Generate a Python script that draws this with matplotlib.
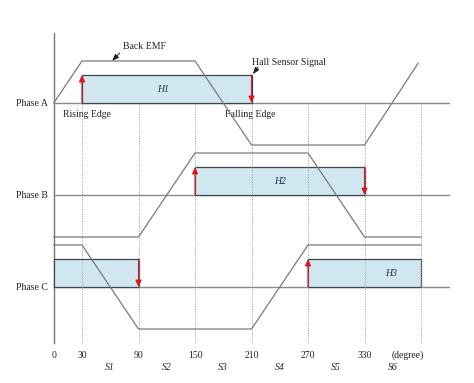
import matplotlib
matplotlib.use("Agg")
import matplotlib.pyplot as plt
from matplotlib.patches import Rectangle

# ---- data ----
tick_angles = [0, 30, 90, 150, 210, 270, 330]
tick_labels = ["0", "30", "90", "150", "210", "270", "330"]
grid_angles = [30, 90, 150, 210, 270, 330, 390]
sector_centers = [60, 120, 180, 240, 300, 360]
sector_labels = ["S1", "S2", "S3", "S4", "S5", "S6"]

emf_a_x = [0, 30, 150, 210, 330, 387]
emf_a_y = [0, 1, 1, -1, -1, 0.95]
emf_b_x = [0, 90, 150, 270, 330, 390]
emf_b_y = [-1, -1, 1, 1, -1, -1]
emf_c_x = [0, 30, 90, 210, 270, 390]
emf_c_y = [1, 1, -1, -1, 1, 1]

hall_a = [(30, 210)]
hall_b = [(150, 330)]
hall_c = [(0, 90), (270, 390)]
rising = [30, 150, 270]
falling = [210, 330, 90]
hall_names = ["H1", "H2", "H3"]
hall_label_x = [116, 240, 358]
phase_names = ["Phase A", "Phase B", "Phase C"]

# ---- layout ----
W, H = 474, 383
fig = plt.figure(figsize=(W / 100, H / 100), dpi=100)
ax = fig.add_axes([0, 0, 1, 1])
ax.axis("off")
pxdeg = 0.9417
x0 = 53.75
amp = 42.0
ax.set_xlim(-x0 / pxdeg, (W - x0) / pxdeg)
ax.set_ylim((103 - H) / amp, 103 / amp)

offsets = [0.0, -92 / amp, -184 / amp]
hall_h = 28 / amp
serif = ["Liberation Serif", "DejaVu Serif"]
fs = 7
line_c = "#7a7a7a"
base_c = "#8a8a8a"
box_edge = "#3c4650"
box_fill = "#d0e7f0"
red = "#e0141c"
bottom_y = (103 - 343) / amp
top_y = (103 - 33) / amp

# vertical axis
ax.plot([0, 0], [bottom_y, top_y], color="#777777", lw=1.0, zorder=2)

# dotted grid lines
for g in grid_angles:
    ax.plot([g, g], [bottom_y, 0], color="#9a9a9a", lw=0.7, ls=(0, (1, 1.5)), zorder=3.5)

# baselines
for off in offsets:
    ax.plot([0, 420], [off, off], color=base_c, lw=1.0, zorder=2)

# hall boxes
for off, ivs in zip(offsets, [hall_a, hall_b, hall_c]):
    for a, b in ivs:
        ax.add_patch(Rectangle((a, off), b - a, hall_h, facecolor=box_fill,
                               edgecolor=box_edge, lw=0.9, zorder=3))

# emf
for off, xs, ys in zip(offsets, [emf_a_x, emf_b_x, emf_c_x], [emf_a_y, emf_b_y, emf_c_y]):
    ax.plot(xs, [off + v for v in ys], color=line_c, lw=0.9, zorder=4)

# edges arrows
for off, r, f in zip(offsets, rising, falling):
    ax.annotate("", xy=(r, off + hall_h), xytext=(r, off),
                arrowprops=dict(arrowstyle="-|>,head_length=0.4,head_width=0.18",
                                color=red, lw=0.8, shrinkA=0, shrinkB=0), zorder=5)
    ax.annotate("", xy=(f, off), xytext=(f, off + hall_h),
                arrowprops=dict(arrowstyle="-|>,head_length=0.4,head_width=0.18",
                                color=red, lw=0.8, shrinkA=0, shrinkB=0), zorder=5)

# hall labels
for off, name, lx in zip(offsets, hall_names, hall_label_x):
    ax.text(lx, off + hall_h / 2, name, family=serif, style="italic", fontsize=fs,
            color="#1f2f4a", ha="center", va="center", zorder=6)

# phase labels
for off, name in zip(offsets, phase_names):
    ax.text(-6.5, off, name, family=serif, fontsize=fs, ha="right", va="center", color="#222222")

# tick labels
ty = (103 - 355) / amp
for a, l in zip(tick_angles, tick_labels):
    ax.text(a, ty, l, family=serif, fontsize=fs, ha="center", va="center", color="#222222")
ax.text(376, ty, "(degree)", family=serif, fontsize=fs, ha="center", va="center", color="#222222")
sy = (103 - 368) / amp
for c, l in zip(sector_centers, sector_labels):
    ax.text(c, sy, l, family=serif, style="italic", fontsize=fs, ha="center", va="center", color="#222222")

# annotations
ax.text(74, (103 - 46) / amp, "Back EMF", family=serif, fontsize=fs, ha="left", va="center", color="#222222")
ax.annotate("", xy=(62, 1.0), xytext=(70, (103 - 53) / amp),
            arrowprops=dict(arrowstyle="-|>,head_length=0.4,head_width=0.15", color="#222222",
                            lw=0.7, shrinkA=0, shrinkB=0))
ax.text(210.5, (103 - 62) / amp, "Hall Sensor Signal", family=serif, fontsize=fs, ha="left",
        va="center", color="#222222")
ax.annotate("", xy=(211.5, hall_h + 0.02), xytext=(217, (103 - 67) / amp),
            arrowprops=dict(arrowstyle="-|>,head_length=0.4,head_width=0.15", color="#222222",
                            lw=0.7, shrinkA=0, shrinkB=0))
ax.text(10, (103 - 114) / amp, "Rising Edge", family=serif, fontsize=fs, ha="left", va="center",
        color="#222222")
ax.text(181.5, (103 - 114) / amp, "Falling Edge", family=serif, fontsize=fs, ha="left", va="center",
        color="#222222")

fig.savefig("out.png", dpi=100, facecolor="white")
